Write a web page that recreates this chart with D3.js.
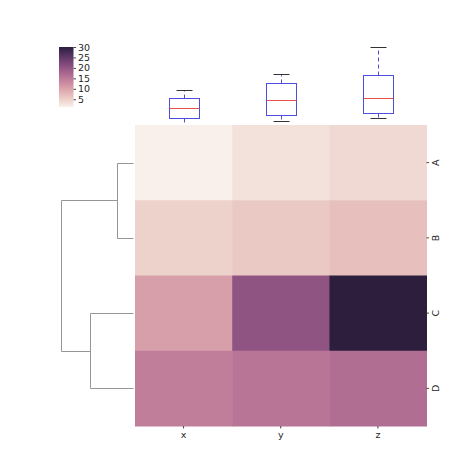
<!DOCTYPE html>
<html>
<head>
<meta charset="utf-8">
<script src="https://cdn.jsdelivr.net/npm/d3@7"></script>
<style>
  body { margin: 0; background: #fff; }
  text { font-family: "DejaVu Sans", sans-serif; fill: #262626; }
</style>
</head>
<body>
<svg id="chart" width="474" height="474"></svg>
<script>
// values
const rows = ['A', 'B', 'C', 'D'];
const cols = ['x', 'y', 'z'];
const colX = [1.3, 4.9, 10.5, 14.4];
const colY = [3.0, 5.8, 20.3, 15.6];
const colZ = [4.0, 6.7, 30.0, 16.5];
const cbarTicks = [5, 10, 15, 20, 25, 30];

const columns = [colX, colY, colZ];
const matrix = rows.map((r, i) => columns.map(c => c[i]));
const allVals = matrix.flat();

const svg = d3.select('#chart');
const snap = v => Math.round(v) + 0.5;

// seaborn-ish cubehelix (light .95, dark .15)
function cubehelix(x) {
  const s = 0, r = 0.4, h = 0.8;
  const a = h * x * (1 - x) / 2;
  const phi = 2 * Math.PI * (s / 3 + r * x);
  const f = (p0, p1) => Math.max(0, Math.min(1, x + a * (p0 * Math.cos(phi) + p1 * Math.sin(phi))));
  return d3.rgb(f(-0.14861, 1.78277) * 255, f(-0.29227, -0.90649) * 255, f(1.97294, 0) * 255);
}
const light = 0.95, dark = 0.15;
const color = d3.scaleSequential(t => cubehelix(light + (dark - light) * t).formatHex())
  .domain(d3.extent(allVals));

// heatmap
const xBand = d3.scaleBand().domain(cols).range([135, 426.5]);
const yBand = d3.scaleBand().domain(rows).range([125, 426]);

// boxplots on top (positions 1..3, xlim .5..3.5)
const bx = d3.scaleLinear().domain([0.5, 3.5]).range([135, 426.5]);
const by = d3.scaleLinear().domain([0, 30]).range([129.2, 47.3]);

const boxG = svg.append('g');
columns.forEach((vals, i) => {
  const s = vals.slice().sort(d3.ascending);
  const q1 = d3.quantile(s, 0.25), med = d3.quantile(s, 0.5), q3 = d3.quantile(s, 0.75);
  const iqr = q3 - q1;
  const lo = d3.min(s.filter(v => v >= q1 - 1.5 * iqr));
  const hi = d3.max(s.filter(v => v <= q3 + 1.5 * iqr));
  const cx = snap(bx(i + 1)), hw = Math.round(bx(1.15) - bx(1)), cw = Math.round(hw / 2);
  const blue = '#4d4de0';
  boxG.append('line').attr('x1', cx).attr('x2', cx).attr('y1', snap(by(q3))).attr('y2', snap(by(hi)))
    .attr('stroke', blue).attr('stroke-dasharray', '4,3');
  boxG.append('line').attr('x1', cx).attr('x2', cx).attr('y1', snap(by(q1))).attr('y2', snap(by(lo)))
    .attr('stroke', blue).attr('stroke-dasharray', '4,3');
  [hi, lo].forEach(v => boxG.append('line')
    .attr('x1', cx - cw).attr('x2', cx + cw).attr('y1', snap(by(v))).attr('y2', snap(by(v)))
    .attr('stroke', '#333'));
  boxG.append('rect').attr('x', cx - hw).attr('width', 2 * hw)
    .attr('y', snap(by(q3))).attr('height', snap(by(q1)) - snap(by(q3)))
    .attr('fill', 'none').attr('stroke', blue);
  boxG.append('line').attr('x1', cx - hw).attr('x2', cx + hw).attr('y1', snap(by(med))).attr('y2', snap(by(med)))
    .attr('stroke', '#e8504c');
});

const heat = svg.append('g');
rows.forEach((r, i) => {
  heat.selectAll(null)
    .data(matrix[i])
    .enter().append('rect')
    .attr('x', (d, j) => xBand(cols[j]))
    .attr('y', yBand(r))
    .attr('width', xBand.bandwidth() + 0.5)
    .attr('height', yBand.bandwidth() + 0.5)
    .attr('fill', d => color(d));
});

// column labels (bottom)
svg.append('g').attr('transform', 'translate(0,426)')
  .call(d3.axisBottom(xBand).tickSize(2.5).tickPadding(3))
  .call(g => g.select('.domain').remove())
  .call(g => g.selectAll('line').attr('stroke', '#444'))
  .call(g => g.selectAll('text').attr('font-size', 9.5));

// row labels (right, rotated)
const ry = svg.append('g').attr('transform', 'translate(426.5,0)')
  .call(d3.axisRight(yBand).tickSize(2.5).tickPadding(3))
  .call(g => g.select('.domain').remove())
  .call(g => g.selectAll('line').attr('stroke', '#444'));
ry.selectAll('text')
  .attr('font-size', 9.5)
  .attr('x', 0)
  .attr('text-anchor', 'middle')
  .attr('transform', 'translate(9.5,0) rotate(-90)')
  .attr('dy', '0.35em');

// row dendrogram, average linkage on euclidean distances
const dist = (a, b) => Math.sqrt(d3.sum(a.map((v, k) => (v - b[k]) ** 2)));
let clusters = rows.map((r, i) => ({ members: [i], y: yBand(r) + yBand.bandwidth() / 2, h: 0 }));
const links = [];
while (clusters.length > 1) {
  let best = null;
  for (let i = 0; i < clusters.length; i++) {
    for (let j = i + 1; j < clusters.length; j++) {
      const d = d3.mean(clusters[i].members.flatMap(a => clusters[j].members.map(b => dist(matrix[a], matrix[b]))));
      if (!best || d < best.d) best = { i, j, d };
    }
  }
  const A = clusters[best.i], B = clusters[best.j];
  links.push({ a: A, b: B, h: best.d });
  const merged = { members: A.members.concat(B.members), y: (A.y + B.y) / 2, h: best.d };
  clusters = clusters.filter((c, k) => k !== best.i && k !== best.j).concat([merged]);
}
const maxH = d3.max(links, l => l.h);
const dx = d3.scaleLinear().domain([0, maxH * 1.05]).range([132.5, 57.2]);
const dend = svg.append('g').attr('fill', 'none').attr('stroke', '#969696').attr('stroke-width', 1);
links.forEach(l => {
  dend.append('path').attr('d',
    `M${snap(dx(l.a.h))},${snap(l.a.y)}H${snap(dx(l.h))}V${snap(l.b.y)}H${snap(dx(l.b.h))}`);
});

// colorbar
const cbY = d3.scaleLinear().domain(color.domain()).range([107, 47]);
const defs = svg.append('defs');
const grad = defs.append('linearGradient').attr('id', 'cbar')
  .attr('x1', 0).attr('y1', 1).attr('x2', 0).attr('y2', 0);
d3.range(0, 1.0001, 0.05).forEach(t => {
  grad.append('stop').attr('offset', t).attr('stop-color', color(color.domain()[0] + t * (color.domain()[1] - color.domain()[0])));
});
svg.append('rect').attr('x', 59).attr('y', 47).attr('width', 14.5).attr('height', 60)
  .attr('fill', 'url(#cbar)');
svg.append('g').attr('transform', 'translate(73.5,0)')
  .call(d3.axisRight(cbY).tickValues(cbarTicks).tickSize(2.5).tickPadding(2))
  .call(g => g.select('.domain').remove())
  .call(g => g.selectAll('line').attr('stroke', '#444'))
  .call(g => g.selectAll('text').attr('font-size', 9.5));
</script>
</body>
</html>
